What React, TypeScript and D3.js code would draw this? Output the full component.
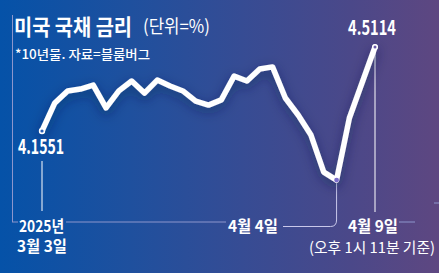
import React from "react";
import * as d3 from "d3";

// trading-day index since 2025-03-03
const dayIndex = [0, 1, 2, 3, 4, 5, 6, 7, 8, 9, 10, 11, 12, 13, 14, 15, 16, 17, 18, 19, 20, 21, 22, 23, 24, 26];
// US 10-year treasury yield (%)
const yields = [
  4.1551, 4.274, 4.325, 4.333, 4.35, 4.253, 4.325, 4.367, 4.316, 4.371, 4.346, 4.325, 4.282,
  4.265, 4.287, 4.388, 4.367, 4.418, 4.427, 4.295, 4.223, 4.138, 3.981, 3.947, 4.21, 4.5114,
];
const startLabel = ["2025년", "3월 3일"];
const lowLabel = "4월 4일";
const endLabel = ["4월 9일", "(오후 1시 11분 기준)"];
const title = "미국 국채 금리";
const unit = "(단위=%)";
const subtitle = "*10년물. 자료=블룸버그";

const W = 439;
const H = 273;
const FONT = "'Noto Sans CJK KR', 'Noto Sans', sans-serif";
const FRAME = "#8d96cc";

export default function App() {
  const x = d3.scaleLinear().domain([0, 26]).range([42, 375]);
  const y = d3.scaleLinear().domain([4.1551, 4.5114]).range([131, 47]);
  const pts = dayIndex.map((d, i) => [x(d), y(yields[i])] as [number, number]);
  const line = d3.line().curve(d3.curveLinear)(pts) || "";

  const lowIdx = yields.indexOf(d3.min(yields) as number);
  const [sx, sy] = pts[0];
  const [lx, ly] = pts[lowIdx];
  const [ex, ey] = pts[pts.length - 1];
  const fmt = d3.format(".4f");

  const txt = (
    t: string,
    xx: number,
    yy: number,
    size: number,
    weight: number,
    tl: number,
    fill = "#ffffff"
  ) => (
    <text
      x={xx}
      y={yy}
      fontSize={size}
      fontWeight={weight}
      fontFamily={FONT}
      fill={fill}
      textLength={tl}
      lengthAdjust="spacingAndGlyphs"
    >
      {t}
    </text>
  );

  return (
    <svg
      width={W}
      height={H}
      viewBox={`0 0 ${W} ${H}`}
      style={{ position: "fixed", left: 0, top: 0, display: "block" }}
    >
      <defs>
        <linearGradient id="bg" x1="0" y1="0" x2="1" y2="0">
          <stop offset="0" stopColor="#0552a8" />
          <stop offset="0.3" stopColor="#1f509e" />
          <stop offset="0.55" stopColor="#364c94" />
          <stop offset="0.8" stopColor="#4b4889" />
          <stop offset="1" stopColor="#5e4781" />
        </linearGradient>
        <filter id="shadow" x="-20%" y="-30%" width="140%" height="170%">
          <feDropShadow dx="0" dy="4" stdDeviation="6" floodColor="#141c4a" floodOpacity="0.55" />
        </filter>
      </defs>
      <rect x={0} y={0} width={W} height={H} fill="url(#bg)" />

      {/* frame */}
      <line x1={12.5} y1={15} x2={12.5} y2={222} stroke={FRAME} strokeWidth={1} />
      <line x1={12} y1={222} x2={18} y2={222} stroke={FRAME} strokeWidth={1} />
      <line x1={66} y1={222} x2={226} y2={222} stroke={FRAME} strokeWidth={1} />
      <line x1={399} y1={222} x2={415} y2={222} stroke={FRAME} strokeWidth={1} />
      <line x1={434} y1={203} x2={439} y2={203} stroke={FRAME} strokeWidth={1} />

      {/* leader lines */}
      <line x1={sx} y1={161} x2={sx} y2={211} stroke="#ffffff" strokeWidth={1} />
      <line x1={ex} y1={ey + 3} x2={ex} y2={212} stroke="#ffffff" strokeWidth={1} />
      <path
        d={`M${lx},${ly + 3} V220 Q${lx},226.5 ${lx - 6},226.5 H283`}
        fill="none"
        stroke="#c9c8ea"
        strokeWidth={1}
      />

      {/* yield line */}
      <path
        d={line}
        fill="none"
        stroke="#ffffff"
        strokeWidth={5.5}
        strokeLinejoin="round"
        strokeLinecap="round"
        filter="url(#shadow)"
      />
      <circle cx={sx} cy={sy} r={3.2} fill="#ffffff" />
      <circle cx={sx} cy={sy} r={1.6} fill="#2a5fb5" />
      <circle cx={lx} cy={ly} r={2.4} fill="#7a6cca" />
      <circle cx={ex} cy={ey} r={3} fill="#ffffff" />
      <circle cx={ex} cy={ey} r={1.5} fill="#6a5aa8" />

      {/* titles */}
      {txt(title, 14, 34.5, 22, 700, 118)}
      {txt(unit, 143, 33, 18, 400, 67)}
      {txt(subtitle, 15, 59, 13, 500, 135)}

      {/* value labels */}
      {txt(fmt(yields[0]), sx - 24, 154, 21, 700, 46)}
      {txt(fmt(yields[yields.length - 1]), ex - 27, 35, 20, 700, 48)}

      {/* date labels */}
      {txt(startLabel[0], 19, 231.5, 15.5, 700, 45)}
      {txt(startLabel[1], 17, 252, 15.5, 700, 50)}
      {txt(lowLabel, 228, 232, 16, 700, 50)}
      {txt(endLabel[0], 348, 232, 16, 700, 50)}
      {txt(endLabel[1], 309, 252.5, 15, 400, 126)}
    </svg>
  );
}
